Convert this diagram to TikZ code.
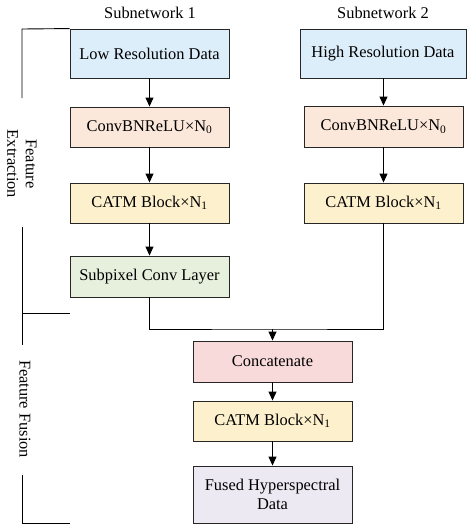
\documentclass[tikz,border=0pt]{standalone}
\usepackage{fontspec}
\setmainfont{Liberation Serif}
\usetikzlibrary{arrows.meta}
\definecolor{lowblue}{HTML}{DDEEFB}
\definecolor{convpeach}{HTML}{FCE8DA}
\definecolor{catmyellow}{HTML}{FDF0CD}
\definecolor{subgreen}{HTML}{E6F0DD}
\definecolor{catpink}{HTML}{F8DADA}
\definecolor{fusedlav}{HTML}{EDE9F2}
\begin{document}
\begin{tikzpicture}[x=1pt,y=-1pt,
    box/.style={draw=black!85,line width=0.9pt,minimum width=159pt,inner sep=0pt,
      font=\fontsize{16.4}{18.5}\selectfont,align=center},
    arr/.style={line width=0.9pt,-{Triangle[width=8pt,length=9pt]}},
    lbl/.style={font=\fontsize{16.4}{18.5}\selectfont,align=center}]
    \useasboundingbox (0,0) rectangle (474,531);
    % titles
    \node[lbl] (sn1) at (150,13) {Subnetwork 1};
    \node[lbl] (sn2) at (383,13) {Subnetwork 2};
    % subnetwork 1
    \node[box,fill=lowblue,minimum height=49pt] (low) at (149.5,53.5) {Low Resolution Data};
    \node[box,fill=convpeach,minimum height=40pt] (conv1) at (149.5,127) {ConvBNReLU×N\textsubscript{0}};
    \node[box,fill=catmyellow,minimum height=40pt] (catm1) at (149.5,203) {CATM Block×N\textsubscript{1}};
    \node[box,fill=subgreen,minimum height=41pt] (sub) at (149.5,276.5) {Subpixel Conv Layer};
    % subnetwork 2
    \node[box,fill=lowblue,minimum height=49pt,minimum width=166pt] (high) at (383,53.5) {High Resolution Data};
    \node[box,fill=convpeach,minimum height=41pt] (conv2) at (383.5,126.5) {ConvBNReLU×N\textsubscript{0}};
    \node[box,fill=catmyellow,minimum height=40pt] (catm2) at (383.5,203) {CATM Block×N\textsubscript{1}};
    % fusion
    \node[box,fill=catpink,minimum height=41pt] (concat) at (272.5,361.5) {Concatenate};
    \node[box,fill=catmyellow,minimum height=40pt] (catm3) at (272.5,421) {CATM Block×N\textsubscript{1}};
    \node[box,fill=fusedlav,minimum height=57pt] (fused) at (272.5,494.5) {Fused Hyperspectral\\Data};
    \coordinate (merge) at (272.5,329);
    % arrows
    \draw[arr] (low) -- (conv1);
    \draw[arr] (conv1) -- (catm1);
    \draw[arr] (catm1) -- (sub);
    \draw[arr] (high.south -| conv2) -- (conv2);
    \draw[arr] (conv2) -- (catm2);
    \draw[line width=0.9pt] (sub.south) |- (merge) -| (catm2.south);
    \draw[arr] (merge) -- (concat);
    \draw[arr] (concat) -- (catm3);
    \draw[arr] (catm3) -- (fused);
    % brackets
    \draw[line width=0.9pt] (low.north west) -- (22,29) -- (22,98);
    \node[lbl,rotate=-90] (fe) at (22,164) {Feature\\Extraction};
    \draw[line width=0.9pt] (22,227) -- (22,345);
    \draw[line width=0.9pt] (22,313) -- (70,313);
    \node[lbl,rotate=-90] (ff) at (25,409) {Feature Fusion};
    \draw[line width=0.9pt] (22,475) -- (22,523) -- (70,523);
\end{tikzpicture}
\end{document}
